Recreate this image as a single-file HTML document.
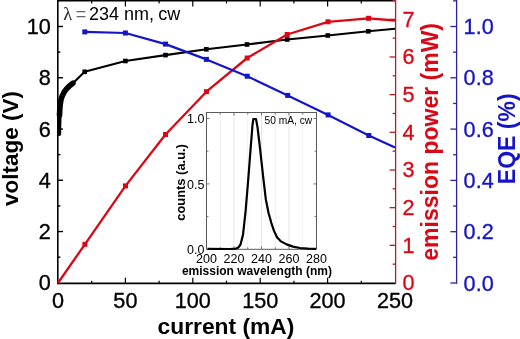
<!DOCTYPE html>
<html><head><meta charset="utf-8"><style>
html,body{margin:0;padding:0;background:#fff;}
body{width:520px;height:339px;overflow:hidden;}
svg{display:block;font-family:'Liberation Sans', Arial, sans-serif;}
</style></head><body>
<svg width="520" height="339" viewBox="0 0 520 339">
<rect width="520" height="339" fill="#fff"/>
<line x1="58.0" y1="0.8" x2="395.0" y2="0.8" stroke="#000" stroke-width="1.6"/>
<line x1="58.0" y1="283.4" x2="395.0" y2="283.4" stroke="#000" stroke-width="1.6"/>
<line x1="57.8" y1="0" x2="57.8" y2="284.2" stroke="#000" stroke-width="1.6"/>
<line x1="395.6" y1="0" x2="395.6" y2="284.2" stroke="#b0202c" stroke-width="1.3"/>
<line x1="91.70" y1="283.4" x2="91.70" y2="280.7" stroke="#000" stroke-width="1.2"/>
<line x1="91.70" y1="0.8" x2="91.70" y2="3.5" stroke="#000" stroke-width="1.2"/>
<line x1="125.40" y1="283.4" x2="125.40" y2="277.8" stroke="#000" stroke-width="1.2"/>
<line x1="125.40" y1="0.8" x2="125.40" y2="6.4" stroke="#000" stroke-width="1.2"/>
<line x1="159.10" y1="283.4" x2="159.10" y2="280.7" stroke="#000" stroke-width="1.2"/>
<line x1="159.10" y1="0.8" x2="159.10" y2="3.5" stroke="#000" stroke-width="1.2"/>
<line x1="192.80" y1="283.4" x2="192.80" y2="277.8" stroke="#000" stroke-width="1.2"/>
<line x1="192.80" y1="0.8" x2="192.80" y2="6.4" stroke="#000" stroke-width="1.2"/>
<line x1="226.50" y1="283.4" x2="226.50" y2="280.7" stroke="#000" stroke-width="1.2"/>
<line x1="226.50" y1="0.8" x2="226.50" y2="3.5" stroke="#000" stroke-width="1.2"/>
<line x1="260.20" y1="283.4" x2="260.20" y2="277.8" stroke="#000" stroke-width="1.2"/>
<line x1="260.20" y1="0.8" x2="260.20" y2="6.4" stroke="#000" stroke-width="1.2"/>
<line x1="293.90" y1="283.4" x2="293.90" y2="280.7" stroke="#000" stroke-width="1.2"/>
<line x1="293.90" y1="0.8" x2="293.90" y2="3.5" stroke="#000" stroke-width="1.2"/>
<line x1="327.60" y1="283.4" x2="327.60" y2="277.8" stroke="#000" stroke-width="1.2"/>
<line x1="327.60" y1="0.8" x2="327.60" y2="6.4" stroke="#000" stroke-width="1.2"/>
<line x1="361.30" y1="283.4" x2="361.30" y2="280.7" stroke="#000" stroke-width="1.2"/>
<line x1="361.30" y1="0.8" x2="361.30" y2="3.5" stroke="#000" stroke-width="1.2"/>
<line x1="58.0" y1="257.17" x2="60.4" y2="257.17" stroke="#000" stroke-width="1.4"/>
<line x1="58.0" y1="231.54" x2="63.0" y2="231.54" stroke="#000" stroke-width="1.4"/>
<line x1="58.0" y1="205.91" x2="60.4" y2="205.91" stroke="#000" stroke-width="1.4"/>
<line x1="58.0" y1="180.28" x2="63.0" y2="180.28" stroke="#000" stroke-width="1.4"/>
<line x1="58.0" y1="154.65" x2="60.4" y2="154.65" stroke="#000" stroke-width="1.4"/>
<line x1="58.0" y1="129.02" x2="63.0" y2="129.02" stroke="#000" stroke-width="1.4"/>
<line x1="58.0" y1="103.39" x2="60.4" y2="103.39" stroke="#000" stroke-width="1.4"/>
<line x1="58.0" y1="77.76" x2="63.0" y2="77.76" stroke="#000" stroke-width="1.4"/>
<line x1="58.0" y1="52.13" x2="60.4" y2="52.13" stroke="#000" stroke-width="1.4"/>
<line x1="58.0" y1="26.50" x2="63.0" y2="26.50" stroke="#000" stroke-width="1.4"/>
<line x1="395.6" y1="264.17" x2="392.6" y2="264.17" stroke="#b0202c" stroke-width="1.3"/>
<line x1="395.6" y1="245.33" x2="389.6" y2="245.33" stroke="#b0202c" stroke-width="1.3"/>
<line x1="395.6" y1="226.50" x2="392.6" y2="226.50" stroke="#b0202c" stroke-width="1.3"/>
<line x1="395.6" y1="207.66" x2="389.6" y2="207.66" stroke="#b0202c" stroke-width="1.3"/>
<line x1="395.6" y1="188.82" x2="392.6" y2="188.82" stroke="#b0202c" stroke-width="1.3"/>
<line x1="395.6" y1="169.99" x2="389.6" y2="169.99" stroke="#b0202c" stroke-width="1.3"/>
<line x1="395.6" y1="151.16" x2="392.6" y2="151.16" stroke="#b0202c" stroke-width="1.3"/>
<line x1="395.6" y1="132.32" x2="389.6" y2="132.32" stroke="#b0202c" stroke-width="1.3"/>
<line x1="395.6" y1="113.48" x2="392.6" y2="113.48" stroke="#b0202c" stroke-width="1.3"/>
<line x1="395.6" y1="94.65" x2="389.6" y2="94.65" stroke="#b0202c" stroke-width="1.3"/>
<line x1="395.6" y1="75.81" x2="392.6" y2="75.81" stroke="#b0202c" stroke-width="1.3"/>
<line x1="395.6" y1="56.98" x2="389.6" y2="56.98" stroke="#b0202c" stroke-width="1.3"/>
<line x1="395.6" y1="38.14" x2="392.6" y2="38.14" stroke="#b0202c" stroke-width="1.3"/>
<line x1="395.6" y1="19.31" x2="389.6" y2="19.31" stroke="#b0202c" stroke-width="1.3"/>
<line x1="395.6" y1="0.47" x2="392.6" y2="0.47" stroke="#b0202c" stroke-width="1.3"/>
<line x1="456.6" y1="0" x2="456.6" y2="283.8" stroke="#2c22a4" stroke-width="1.3"/>
<line x1="456.6" y1="283.00" x2="450.4" y2="283.00" stroke="#2c22a4" stroke-width="1.3"/>
<line x1="456.6" y1="257.35" x2="453.1" y2="257.35" stroke="#2c22a4" stroke-width="1.3"/>
<line x1="456.6" y1="231.70" x2="450.4" y2="231.70" stroke="#2c22a4" stroke-width="1.3"/>
<line x1="456.6" y1="206.05" x2="453.1" y2="206.05" stroke="#2c22a4" stroke-width="1.3"/>
<line x1="456.6" y1="180.40" x2="450.4" y2="180.40" stroke="#2c22a4" stroke-width="1.3"/>
<line x1="456.6" y1="154.75" x2="453.1" y2="154.75" stroke="#2c22a4" stroke-width="1.3"/>
<line x1="456.6" y1="129.10" x2="450.4" y2="129.10" stroke="#2c22a4" stroke-width="1.3"/>
<line x1="456.6" y1="103.45" x2="453.1" y2="103.45" stroke="#2c22a4" stroke-width="1.3"/>
<line x1="456.6" y1="77.80" x2="450.4" y2="77.80" stroke="#2c22a4" stroke-width="1.3"/>
<line x1="456.6" y1="52.15" x2="453.1" y2="52.15" stroke="#2c22a4" stroke-width="1.3"/>
<line x1="456.6" y1="26.50" x2="450.4" y2="26.50" stroke="#2c22a4" stroke-width="1.3"/>
<line x1="456.6" y1="0.85" x2="453.1" y2="0.85" stroke="#2c22a4" stroke-width="1.3"/>
<g transform="translate(50.80,290.40) scale(0.95,1)"><text x="0" y="0" text-anchor="end" font-size="22.8" fill="#000" stroke="#000" stroke-width="0.35">0</text></g>
<g transform="translate(50.80,239.14) scale(0.95,1)"><text x="0" y="0" text-anchor="end" font-size="22.8" fill="#000" stroke="#000" stroke-width="0.35">2</text></g>
<g transform="translate(50.80,187.88) scale(0.95,1)"><text x="0" y="0" text-anchor="end" font-size="22.8" fill="#000" stroke="#000" stroke-width="0.35">4</text></g>
<g transform="translate(50.80,136.62) scale(0.95,1)"><text x="0" y="0" text-anchor="end" font-size="22.8" fill="#000" stroke="#000" stroke-width="0.35">6</text></g>
<g transform="translate(50.80,85.36) scale(0.95,1)"><text x="0" y="0" text-anchor="end" font-size="22.8" fill="#000" stroke="#000" stroke-width="0.35">8</text></g>
<g transform="translate(50.80,34.10) scale(0.95,1)"><text x="0" y="0" text-anchor="end" font-size="22.8" fill="#000" stroke="#000" stroke-width="0.35">10</text></g>
<g transform="translate(58.00,307.90) scale(0.95,1)"><text x="0" y="0" text-anchor="middle" font-size="22.8" fill="#000" stroke="#000" stroke-width="0.35">0</text></g>
<g transform="translate(125.40,307.90) scale(0.95,1)"><text x="0" y="0" text-anchor="middle" font-size="22.8" fill="#000" stroke="#000" stroke-width="0.35">50</text></g>
<g transform="translate(192.80,307.90) scale(0.95,1)"><text x="0" y="0" text-anchor="middle" font-size="22.8" fill="#000" stroke="#000" stroke-width="0.35">100</text></g>
<g transform="translate(260.20,307.90) scale(0.95,1)"><text x="0" y="0" text-anchor="middle" font-size="22.8" fill="#000" stroke="#000" stroke-width="0.35">150</text></g>
<g transform="translate(327.60,307.90) scale(0.95,1)"><text x="0" y="0" text-anchor="middle" font-size="22.8" fill="#000" stroke="#000" stroke-width="0.35">200</text></g>
<g transform="translate(395.00,307.90) scale(0.95,1)"><text x="0" y="0" text-anchor="middle" font-size="22.8" fill="#000" stroke="#000" stroke-width="0.35">250</text></g>
<g transform="translate(402.60,290.20) scale(0.95,1)"><text x="0" y="0" text-anchor="start" font-size="22.8" fill="#da0816" stroke="#da0816" stroke-width="0.35">0</text></g>
<g transform="translate(402.60,252.53) scale(0.95,1)"><text x="0" y="0" text-anchor="start" font-size="22.8" fill="#da0816" stroke="#da0816" stroke-width="0.35">1</text></g>
<g transform="translate(402.60,214.86) scale(0.95,1)"><text x="0" y="0" text-anchor="start" font-size="22.8" fill="#da0816" stroke="#da0816" stroke-width="0.35">2</text></g>
<g transform="translate(402.60,177.19) scale(0.95,1)"><text x="0" y="0" text-anchor="start" font-size="22.8" fill="#da0816" stroke="#da0816" stroke-width="0.35">3</text></g>
<g transform="translate(402.60,139.52) scale(0.95,1)"><text x="0" y="0" text-anchor="start" font-size="22.8" fill="#da0816" stroke="#da0816" stroke-width="0.35">4</text></g>
<g transform="translate(402.60,101.85) scale(0.95,1)"><text x="0" y="0" text-anchor="start" font-size="22.8" fill="#da0816" stroke="#da0816" stroke-width="0.35">5</text></g>
<g transform="translate(402.60,64.18) scale(0.95,1)"><text x="0" y="0" text-anchor="start" font-size="22.8" fill="#da0816" stroke="#da0816" stroke-width="0.35">6</text></g>
<g transform="translate(402.60,26.51) scale(0.95,1)"><text x="0" y="0" text-anchor="start" font-size="22.8" fill="#da0816" stroke="#da0816" stroke-width="0.35">7</text></g>
<g transform="translate(463.60,290.60) scale(0.95,1)"><text x="0" y="0" text-anchor="start" font-size="22.8" fill="#1414c8" stroke="#1414c8" stroke-width="0.35">0.0</text></g>
<g transform="translate(463.60,239.30) scale(0.95,1)"><text x="0" y="0" text-anchor="start" font-size="22.8" fill="#1414c8" stroke="#1414c8" stroke-width="0.35">0.2</text></g>
<g transform="translate(463.60,188.00) scale(0.95,1)"><text x="0" y="0" text-anchor="start" font-size="22.8" fill="#1414c8" stroke="#1414c8" stroke-width="0.35">0.4</text></g>
<g transform="translate(463.60,136.70) scale(0.95,1)"><text x="0" y="0" text-anchor="start" font-size="22.8" fill="#1414c8" stroke="#1414c8" stroke-width="0.35">0.6</text></g>
<g transform="translate(463.60,85.40) scale(0.95,1)"><text x="0" y="0" text-anchor="start" font-size="22.8" fill="#1414c8" stroke="#1414c8" stroke-width="0.35">0.8</text></g>
<g transform="translate(463.60,34.10) scale(0.95,1)"><text x="0" y="0" text-anchor="start" font-size="22.8" fill="#1414c8" stroke="#1414c8" stroke-width="0.35">1.0</text></g>
<text transform="translate(18.1,148.5) rotate(-90)" text-anchor="middle" font-size="22.5" font-weight="bold" fill="#000">voltage (V)</text>
<text x="226" y="333.6" text-anchor="middle" font-size="22.8" font-weight="bold" fill="#000">current (mA)</text>
<text transform="translate(438,141.85) rotate(-90)" text-anchor="middle" font-size="23" font-weight="bold" fill="#da0816">emission power (mW)</text>
<text transform="translate(515,138.8) rotate(-90)" text-anchor="middle" font-size="23" font-weight="bold" fill="#1414c8">EQE (%)</text>
<text x="63.3" y="20.3" font-size="18.5" font-family="'Liberation Serif', serif" fill="#222">λ</text>
<text x="75.8" y="19.6" font-size="18" fill="#666">=</text>
<text x="88.9" y="19.5" font-size="18">234</text>
<text x="124.0" y="19.5" font-size="18">nm,</text>
<text x="158.2" y="19.5" font-size="18">cw</text>
<rect x="206.5" y="112.5" width="110.0" height="136.8" fill="#fff" stroke="none"/>
<line x1="220.25" y1="112.5" x2="220.25" y2="249.3" stroke="#f1f1f1" stroke-width="1"/>
<line x1="234.00" y1="112.5" x2="234.00" y2="249.3" stroke="#e6e6e6" stroke-width="1"/>
<line x1="247.75" y1="112.5" x2="247.75" y2="249.3" stroke="#f1f1f1" stroke-width="1"/>
<line x1="261.50" y1="112.5" x2="261.50" y2="249.3" stroke="#e6e6e6" stroke-width="1"/>
<line x1="275.25" y1="112.5" x2="275.25" y2="249.3" stroke="#f1f1f1" stroke-width="1"/>
<line x1="289.00" y1="112.5" x2="289.00" y2="249.3" stroke="#e6e6e6" stroke-width="1"/>
<line x1="302.75" y1="112.5" x2="302.75" y2="249.3" stroke="#f1f1f1" stroke-width="1"/>
<rect x="206.5" y="112.5" width="110.0" height="136.8" fill="none" stroke="#5a5a5a" stroke-width="1"/>
<line x1="220.25" y1="249.3" x2="220.25" y2="247.3" stroke="#666" stroke-width="0.9"/>
<line x1="220.25" y1="112.5" x2="220.25" y2="114.5" stroke="#666" stroke-width="0.9"/>
<line x1="234.00" y1="249.3" x2="234.00" y2="246.3" stroke="#666" stroke-width="0.9"/>
<line x1="234.00" y1="112.5" x2="234.00" y2="115.5" stroke="#666" stroke-width="0.9"/>
<line x1="247.75" y1="249.3" x2="247.75" y2="247.3" stroke="#666" stroke-width="0.9"/>
<line x1="247.75" y1="112.5" x2="247.75" y2="114.5" stroke="#666" stroke-width="0.9"/>
<line x1="261.50" y1="249.3" x2="261.50" y2="246.3" stroke="#666" stroke-width="0.9"/>
<line x1="261.50" y1="112.5" x2="261.50" y2="115.5" stroke="#666" stroke-width="0.9"/>
<line x1="275.25" y1="249.3" x2="275.25" y2="247.3" stroke="#666" stroke-width="0.9"/>
<line x1="275.25" y1="112.5" x2="275.25" y2="114.5" stroke="#666" stroke-width="0.9"/>
<line x1="289.00" y1="249.3" x2="289.00" y2="246.3" stroke="#666" stroke-width="0.9"/>
<line x1="289.00" y1="112.5" x2="289.00" y2="115.5" stroke="#666" stroke-width="0.9"/>
<line x1="302.75" y1="249.3" x2="302.75" y2="247.3" stroke="#666" stroke-width="0.9"/>
<line x1="302.75" y1="112.5" x2="302.75" y2="114.5" stroke="#666" stroke-width="0.9"/>
<line x1="206.5" y1="216.60" x2="208.5" y2="216.60" stroke="#666" stroke-width="0.9"/>
<line x1="316.5" y1="216.60" x2="314.5" y2="216.60" stroke="#666" stroke-width="0.9"/>
<line x1="206.5" y1="183.90" x2="209.5" y2="183.90" stroke="#666" stroke-width="0.9"/>
<line x1="316.5" y1="183.90" x2="313.5" y2="183.90" stroke="#666" stroke-width="0.9"/>
<line x1="206.5" y1="151.20" x2="208.5" y2="151.20" stroke="#666" stroke-width="0.9"/>
<line x1="316.5" y1="151.20" x2="314.5" y2="151.20" stroke="#666" stroke-width="0.9"/>
<line x1="206.5" y1="118.50" x2="209.5" y2="118.50" stroke="#666" stroke-width="0.9"/>
<line x1="316.5" y1="118.50" x2="313.5" y2="118.50" stroke="#666" stroke-width="0.9"/>
<text x="204.4" y="253.6" text-anchor="end" font-size="12.5" fill="#000">0.0</text>
<text x="204.4" y="188.7" text-anchor="end" font-size="12.5" fill="#000">0.5</text>
<text x="204.4" y="123.0" text-anchor="end" font-size="12.5" fill="#000">1.0</text>
<text x="206.50" y="263.2" text-anchor="middle" font-size="12.5" fill="#000">200</text>
<text x="234.00" y="263.2" text-anchor="middle" font-size="12.5" fill="#000">220</text>
<text x="261.50" y="263.2" text-anchor="middle" font-size="12.5" fill="#000">240</text>
<text x="289.00" y="263.2" text-anchor="middle" font-size="12.5" fill="#000">260</text>
<text x="316.50" y="263.2" text-anchor="middle" font-size="12.5" fill="#000">280</text>
<text transform="translate(184.8,182.4) rotate(-90)" text-anchor="middle" font-size="12.9" font-weight="bold" fill="#000">counts (a.u.)</text>
<text x="256.9" y="274.6" text-anchor="middle" font-size="12.0" font-weight="bold" fill="#000">emission wavelength (nm)</text>
<text x="264.6" y="124.2" font-size="10.9" textLength="47.6" lengthAdjust="spacingAndGlyphs" fill="#000">50 mA, cw</text>
<path d="M207.5,248.9 L230.0,249.0 L236.0,248.6 L238.3,247.6 L240.5,244.5 L243.0,234.9 L245.6,211.1 L248.0,182.5 L250.5,150.2 L252.5,125.0 L253.4,119.0 L256.0,119.0 L257.5,127.1 L260.0,148.2 L263.0,175.4 L265.8,199.2 L268.5,212.7 L271.3,222.8 L274.0,230.9 L277.0,237.2 L281.0,241.4 L286.6,244.4 L293.0,246.6 L300.0,248.0 L308.0,248.6 L316.0,248.8" fill="none" stroke="#000" stroke-width="2.2" stroke-linejoin="round"/>
<path d="M59.10,134.00 L59.20,125.00 L59.50,115.00 L60.00,106.00 L60.80,100.50 L62.10,96.20 L64.10,92.20 L66.90,88.40 L69.90,85.40 L72.90,83.20 L84.70,71.80 L125.40,61.00 L165.50,55.10 L206.40,49.30 L247.00,44.50 L287.20,39.50 L327.80,35.50 L368.30,31.30 L395.00,28.80" fill="none" stroke="#000000" stroke-width="2.1" stroke-linejoin="round"/>
<path d="M59.10,134.00 L59.20,125.00 L59.50,115.00 L60.00,106.00" fill="none" stroke="#000" stroke-width="4.2" stroke-linecap="round" stroke-linejoin="round"/>
<path d="M59.50,115.00 L60.00,106.00 L60.80,100.50 L62.10,96.20 L64.10,92.20 L66.90,88.40 L69.90,85.40 L72.90,83.20" fill="none" stroke="#000" stroke-width="5.6" stroke-linecap="round" stroke-linejoin="round"/>
<rect x="82.40" y="69.50" width="4.6" height="4.6" fill="#000000"/>
<rect x="123.10" y="58.70" width="4.6" height="4.6" fill="#000000"/>
<rect x="163.20" y="52.80" width="4.6" height="4.6" fill="#000000"/>
<rect x="204.10" y="47.00" width="4.6" height="4.6" fill="#000000"/>
<rect x="244.70" y="42.20" width="4.6" height="4.6" fill="#000000"/>
<rect x="284.90" y="37.20" width="4.6" height="4.6" fill="#000000"/>
<rect x="325.50" y="33.20" width="4.6" height="4.6" fill="#000000"/>
<rect x="366.00" y="29.00" width="4.6" height="4.6" fill="#000000"/>
<path d="M58.00,283.00 L84.90,244.30 L125.50,185.90 L165.50,134.50 L206.40,91.70 L247.20,58.00 L287.20,34.50 L328.00,21.80 L368.60,18.30 L395.00,20.50" fill="none" stroke="#da0816" stroke-width="2.3" stroke-linejoin="round"/>
<rect x="82.40" y="241.80" width="5.0" height="5.0" fill="#da0816"/>
<rect x="123.00" y="183.40" width="5.0" height="5.0" fill="#da0816"/>
<rect x="163.00" y="132.00" width="5.0" height="5.0" fill="#da0816"/>
<rect x="203.90" y="89.20" width="5.0" height="5.0" fill="#da0816"/>
<rect x="244.70" y="55.50" width="5.0" height="5.0" fill="#da0816"/>
<rect x="284.70" y="32.00" width="5.0" height="5.0" fill="#da0816"/>
<rect x="325.50" y="19.30" width="5.0" height="5.0" fill="#da0816"/>
<rect x="366.10" y="15.80" width="5.0" height="5.0" fill="#da0816"/>
<path d="M84.80,31.90 L125.40,33.00 L165.50,44.10 L206.40,59.40 L247.20,76.20 L287.70,95.40 L328.10,114.90 L368.80,135.50 L395.00,147.60" fill="none" stroke="#1414c8" stroke-width="2.2" stroke-linejoin="round"/>
<rect x="82.30" y="29.40" width="5.0" height="5.0" fill="#1414c8"/>
<rect x="122.90" y="30.50" width="5.0" height="5.0" fill="#1414c8"/>
<rect x="163.00" y="41.60" width="5.0" height="5.0" fill="#1414c8"/>
<rect x="203.90" y="56.90" width="5.0" height="5.0" fill="#1414c8"/>
<rect x="244.70" y="73.70" width="5.0" height="5.0" fill="#1414c8"/>
<rect x="285.20" y="92.90" width="5.0" height="5.0" fill="#1414c8"/>
<rect x="325.60" y="112.40" width="5.0" height="5.0" fill="#1414c8"/>
<rect x="366.30" y="133.00" width="5.0" height="5.0" fill="#1414c8"/>
</svg>
</body></html>
